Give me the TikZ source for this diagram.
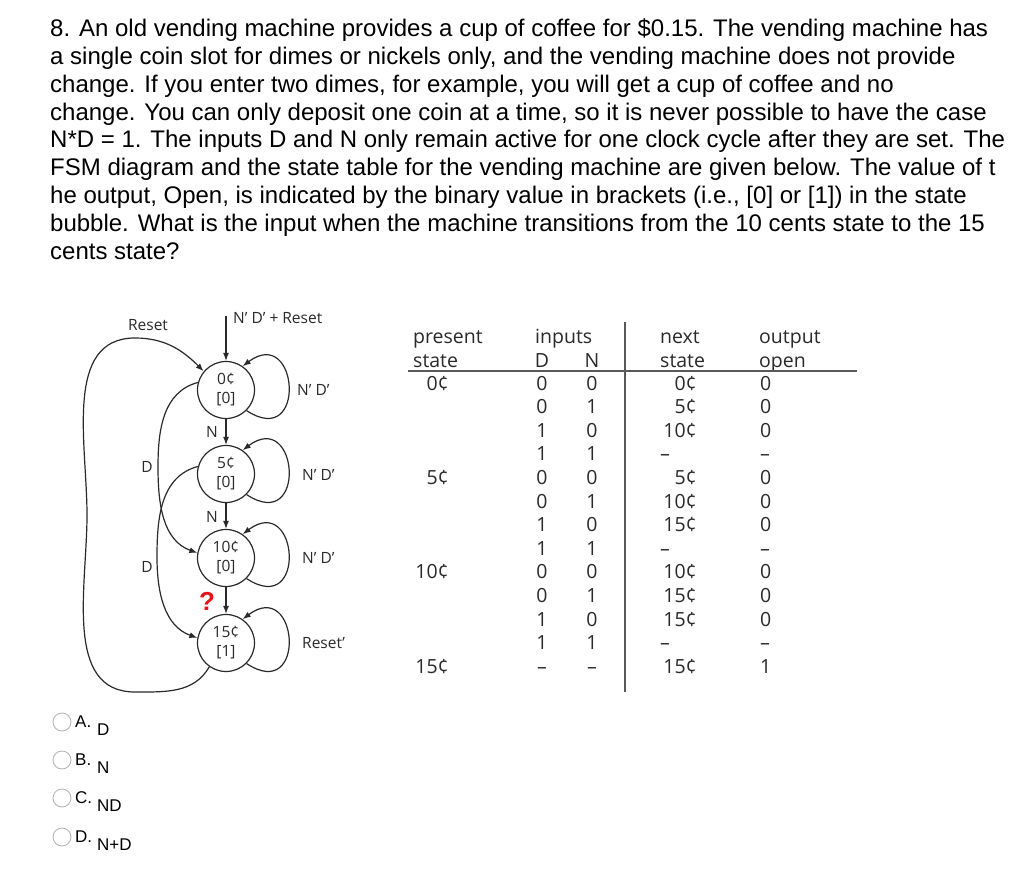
\documentclass[tikz,border=0pt]{standalone}
\usepackage{fontspec}
\setmainfont{Liberation Sans}
\newfontfamily\opensans{Open Sans}
\usetikzlibrary{arrows.meta}
\definecolor{ink}{HTML}{2A2A2A}
\definecolor{qred}{HTML}{E8141B}
\tikzset{
  titleline/.style={anchor=base west, inner sep=0pt, font=\fontsize{24}{28}\selectfont},
  state/.style={circle, draw=ink, line width=1.2pt, minimum size=57pt, inner sep=0pt, align=center,
    font=\opensans\fontsize{15.5}{19}\selectfont, text=ink},
  arr/.style={draw=ink, line width=1.2pt, -{Latex[length=8pt,width=6pt]}},
  lbl/.style={inner sep=0pt, font=\opensans\fontsize{15.5}{18}\selectfont, text=ink},
  tb/.style={inner sep=0pt, font=\opensans\fontsize{19.5}{23}\selectfont, text=ink},
  rule/.style={draw=black!65, line width=1.3pt},
  radio/.style={circle, draw=black!30, line width=0.8pt, minimum size=18pt, inner sep=0pt},
  optlbl/.style={anchor=base west, inner sep=0pt, font=\fontsize{17}{18}\selectfont},
}
\begin{document}
\begin{tikzpicture}[x=1pt,y=1pt]
\useasboundingbox (0,0) rectangle (1024,-874);
\fill[white] (0,0) rectangle (1024,-874);

% question text
\node[titleline] (t1) at (50,-36.7) {8. An old vending machine provides a cup of coffee for \$0.15. The vending machine has};
\node[titleline] (t2) at (50,-64.5) {a single coin slot for dimes or nickels only, and the vending machine does not provide};
\node[titleline] (t3) at (50,-92.3) {change. If you enter two dimes, for example, you will get a cup of coffee and no};
\node[titleline] (t4) at (50,-120.1) {change. You can only deposit one coin at a time, so it is never possible to have the case};
\node[titleline] (t5) at (50,-147.9) {N*D = 1. The inputs D and N only remain active for one clock cycle after they are set. The};
\node[titleline] (t6) at (50,-175.7) {FSM diagram and the state table for the vending machine are given below. The value of t};
\node[titleline] (t7) at (50,-203.5) {he output, Open, is indicated by the binary value in brackets (i.e., [0] or [1]) in the state};
\node[titleline] (t8) at (50,-231.3) {bubble. What is the input when the machine transitions from the 10 cents state to the 15};
\node[titleline] (t9) at (50,-259.1) {cents state?};

% FSM
\node[state] (s0) at (226,-390) {0¢\\{[0]}};
\node[state] (s5) at (226,-474) {5¢\\{[0]}};
\node[state] (s10) at (226,-558) {10¢\\{[0]}};
\node[state] (s15) at (226,-643) {15¢\\{[1]}};

\coordinate (init) at (226,-316);
\draw[arr] (init) -- (s0);
\node[lbl, anchor=west] (linit) at (233,-318) {N’ D’ + Reset};

\draw[arr] (s0) -- (s5);
\node[lbl] (ln1) at (212,-432) {N};
\draw[arr] (s5) -- (s10);
\node[lbl] (ln2) at (212,-517) {N};
\draw[arr] (s10) -- (s15);
\node[inner sep=0pt, font=\fontsize{26}{28}\selectfont\bfseries, text=qred] (lq) at (207,-601) {?};

% self loops
\foreach \s in {s0,s5,s10,s15}{
  \draw[arr] (\s.-45) .. controls +(61,-40) and +(56,42) .. (\s.55);
}
\node[lbl, anchor=west] (l0) at (297,-390) {N’ D’};
\node[lbl, anchor=west] (l5) at (302,-475) {N’ D’};
\node[lbl, anchor=west] (l10) at (302,-558) {N’ D’};
\node[lbl, anchor=west] (l15) at (302,-643) {Reset’};

% reset arc
\coordinate (rb) at (135,-692);
\coordinate (rl) at (87,-515);
\coordinate (rt) at (135,-338);
\draw[arr] (s15.-125) to[out=-120,in=0] (rb) to[out=180,in=-90] (rl) to[out=90,in=180] (rt) to[out=0,in=135] (s0.140);
\node[lbl] (lreset) at (148,-325) {Reset};

% D arcs
\coordinate (d1) at (158,-467);
\coordinate (d2) at (157,-557);
\draw[arr] (s0.165) to[out=195,in=90] (d1) to[out=-90,in=160] (s10.170);
\draw[arr] (s5.165) to[out=195,in=90] (d2) to[out=-90,in=160] (s15.170);
\node[lbl] (ld1) at (147,-467) {D};
\node[lbl] (ld2) at (147,-567) {D};

% state table
\node[tb, anchor=base west] (hp1) at (413,-343) {present};
\node[tb, anchor=base west] (hp2) at (413,-367) {state};
\node[tb, anchor=base west] (hi) at (535,-343) {inputs};
\node[tb, anchor=base] (hD) at (542,-367) {D};
\node[tb, anchor=base] (hN) at (592,-367) {N};
\node[tb, anchor=base west] (hn1) at (660,-343) {next};
\node[tb, anchor=base west] (hn2) at (660,-367) {state};
\node[tb, anchor=base west] (ho1) at (759,-343) {output};
\node[tb, anchor=base west] (ho2) at (759,-367) {open};

\coordinate (hl1) at (408,-371);
\coordinate (hl2) at (857,-371);
\coordinate (vl1) at (625,-322);
\coordinate (vl2) at (625,-692);
\draw[rule] (hl1) -- (hl2);
\draw[rule] (vl1) -- (vl2);

\foreach \k/\ps in {1/0¢,5/5¢,9/10¢,13/15¢}{
  \node[tb, anchor=base east] (ps\k) at (449,{-390-23.6*(\k-1)}) {\ps};
}
\foreach \k/\d/\n/\o in {1/0/0/0,2/0/1/0,3/1/0/0,4/1/1/–,
  5/0/0/0,6/0/1/0,7/1/0/0,8/1/1/–,
  9/0/0/0,10/0/1/0,11/1/0/0,12/1/1/–,13/–/–/1}{
  \node[tb, anchor=base] (d\k) at (542,{-390-23.6*(\k-1)}) {\d};
  \node[tb, anchor=base] (n\k) at (592,{-390-23.6*(\k-1)}) {\n};
  \node[tb, anchor=base west] (o\k) at (760,{-390-23.6*(\k-1)}) {\o};
}
\foreach \k/\ns in {1/0¢,2/5¢,3/10¢,5/5¢,6/10¢,7/15¢,9/10¢,10/15¢,11/15¢,13/15¢}{
  \node[tb, anchor=base east] (ns\k) at (697,{-390-23.6*(\k-1)}) {\ns};
}
\foreach \k in {4,8,12}{
  \node[tb, anchor=base west] (ns\k) at (660,{-390-23.6*(\k-1)}) {–};
}

% answer options
\foreach \i/\l/\t/\y in {a/A./D/722,b/B./N/760,c/C./ND/798,d/D./N+D/837}{
  \node[radio] (r\i) at (62,-\y) {};
  \node[optlbl] (ol\i) at (75,{-\y-5}) {\l};
  \node[optlbl] (ot\i) at (97,{-\y-13}) {\t};
}
\end{tikzpicture}
\end{document}
